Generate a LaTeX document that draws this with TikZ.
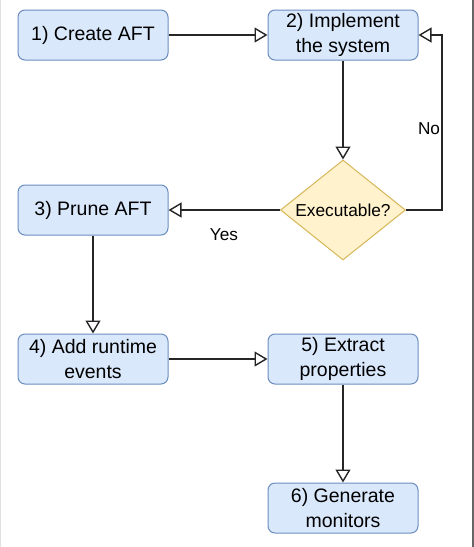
\documentclass[tikz,border=0pt]{standalone}
\usepackage{fontspec}
\setmainfont{Liberation Sans}
\usetikzlibrary{shapes.geometric,arrows.meta}
\definecolor{boxfill}{HTML}{DAE8FC}
\definecolor{boxline}{HTML}{6C8EBF}
\definecolor{decfill}{HTML}{FFF2CC}
\definecolor{decline}{HTML}{D6B656}
\tikzset{
  stepbox/.style={draw=boxline, fill=boxfill, line width=1pt, rounded corners=7pt,
    minimum width=150pt, minimum height=50pt, inner sep=0pt, align=center,
    font=\fontsize{19.5}{24.5}\selectfont},
  decision/.style={draw=decline, fill=decfill, line width=1pt, diamond,
    minimum width=125pt, minimum height=100pt, inner sep=0pt,
    font=\fontsize{17.3}{20}\selectfont},
  conn/.style={draw=black!85, line width=1.4pt, -{Triangle[open, length=13pt, width=15pt, fill=white]}},
  lbl/.style={font=\fontsize{17.2}{20}\selectfont, inner sep=0pt}
}
\begin{document}
\begin{tikzpicture}[x=1pt,y=-1pt]
\useasboundingbox (0,0) rectangle (474,547);
\fill[white] (0,0) rectangle (474,547);
\draw[black!60, line width=2pt] (473,0) -- (473,547);
\draw[black!12, line width=1pt] (0.5,0) -- (0.5,547);

\node[stepbox] (s1) at (93,35) {1) Create AFT};
\node[stepbox] (s2) at (343,35) {2) Implement\\the system};
\node[decision] (d) at (343,210) {\makebox[0pt]{Executable?}};
\node[stepbox] (s3) at (93,210) {3) Prune AFT};
\node[stepbox] (s4) at (93,359) {4) Add runtime\\events};
\node[stepbox] (s5) at (343,359) {5) Extract\\properties};
\node[stepbox] (s6) at (343,508) {6) Generate\\monitors};

\coordinate (c1) at (442,210);
\coordinate (c2) at (442,35);

\draw[conn] (s1) -- (s2);
\draw[conn] (s2) -- (d);
\draw[conn] (d.east) -- (c1) -- (c2) -- (s2.east);
\draw[conn] (d.west) -- (s3.east);
\draw[conn] (s3) -- (s4);
\draw[conn] (s4) -- (s5);
\draw[conn] (s5) -- (s6);

\node[lbl] (no) at (429,129) {No};
\node[lbl] (yes) at (224,235) {Yes};
\end{tikzpicture}
\end{document}
